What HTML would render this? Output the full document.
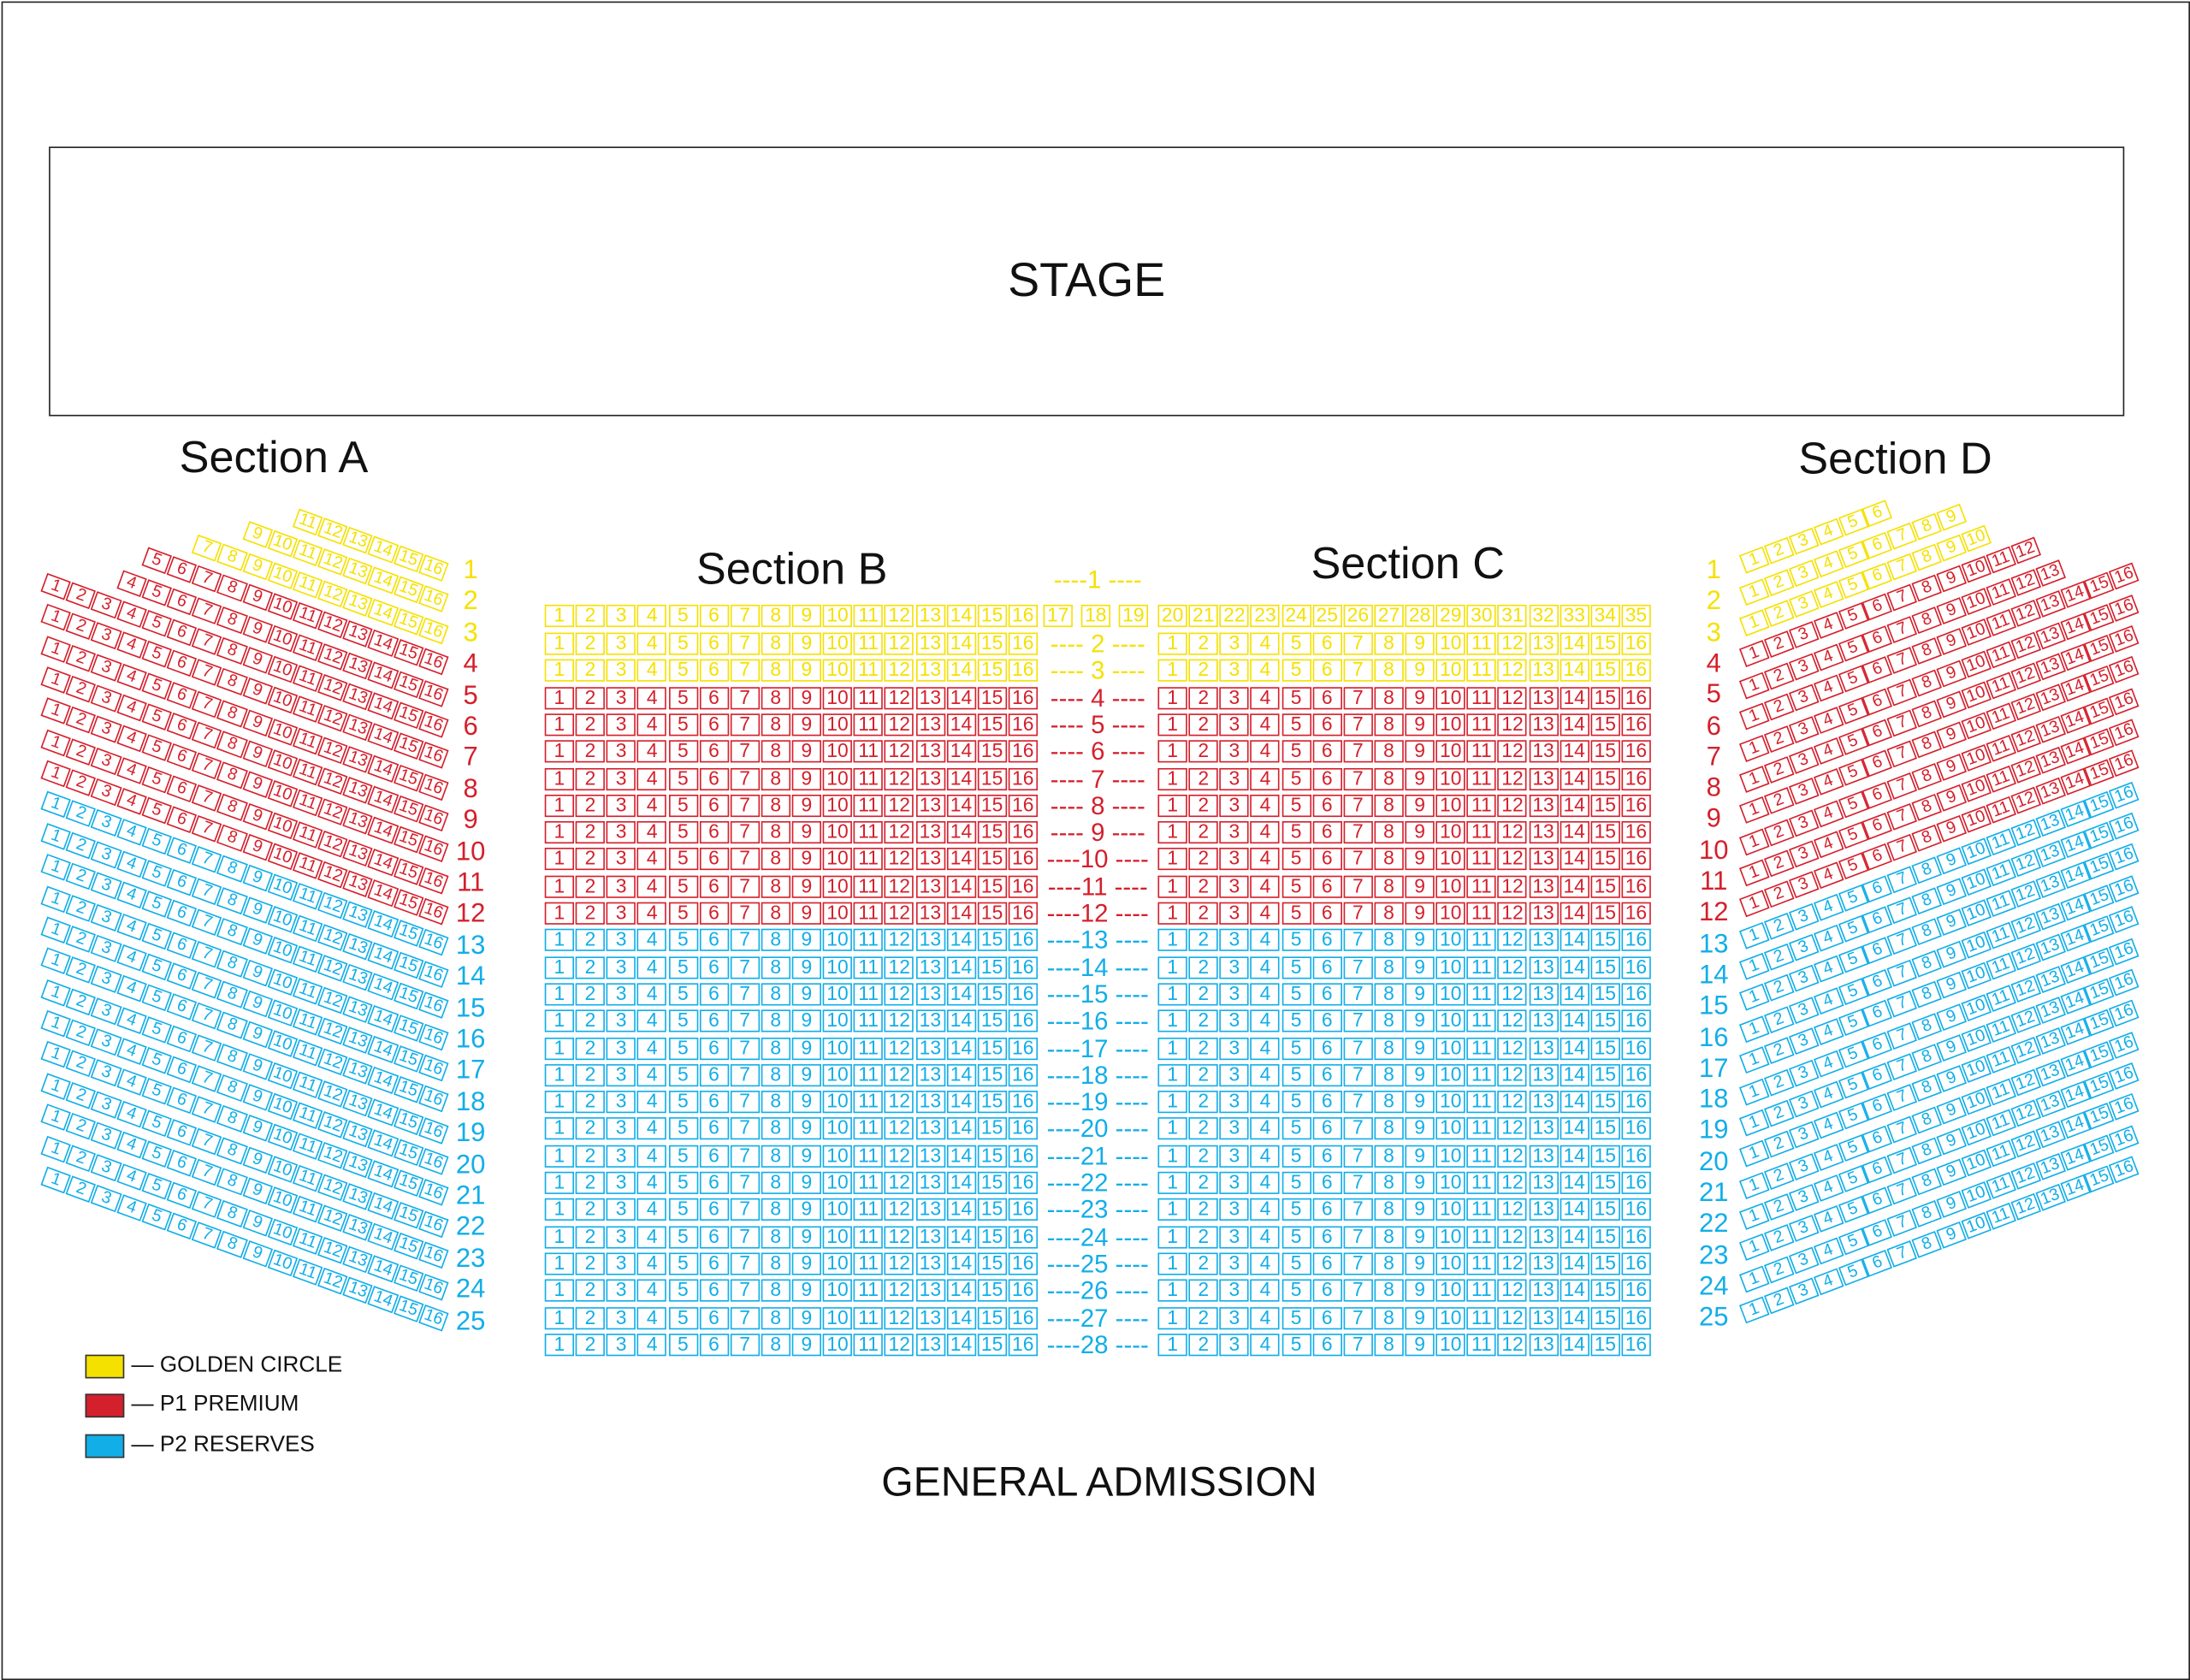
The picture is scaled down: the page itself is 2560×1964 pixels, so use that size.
<!DOCTYPE html>
<html><head><meta charset="utf-8"><style>
html,body{margin:0;padding:0;background:#fff;}
body{width:2560px;height:1964px;overflow:hidden;position:relative;font-family:"Liberation Sans",sans-serif;}
#w{position:absolute;left:0;top:0;width:1568px;height:1203px;transform:scale(1.63265);transform-origin:0 0;}
.frame{position:absolute;left:0.5px;top:0.5px;width:1565px;height:1200px;border:1.5px solid #222;}
.stage{position:absolute;left:35px;top:105px;width:1484px;height:191px;border:1.5px solid #222;text-align:center;line-height:191px;font-size:34px;color:#111;}
.sec{position:absolute;font-size:32px;color:#111;white-space:nowrap;transform:translateX(-50%);line-height:32px;}
.s{position:absolute;display:flex;white-space:nowrap;}
.s i{flex:none;box-sizing:border-box;border:1.4px solid currentColor;font-style:normal;text-align:center;}
.b i{width:21px;height:16px;font-size:14px;line-height:13.5px;margin-right:1.13px;}
.a{left:31px;transform-origin:9px 6.75px;transform:rotate(20.05deg);}
.a i,.d i{width:18.2px;height:13.5px;font-size:12px;line-height:11px;margin-right:1px;}
.d{left:1247px;transform-origin:9px 6.75px;transform:rotate(-20.8deg);}
.d i{width:18px;margin-right:0.9px;}
.s i.h{visibility:hidden;}
.Y{color:#f5e100;}.R{color:#d4202c;}.C{color:#12aee8;}
.l{position:absolute;width:40px;text-align:center;font-size:19px;line-height:18px;}
.m{position:absolute;left:716px;width:140px;text-align:center;font-size:18px;line-height:16px;white-space:pre;}
.lg{position:absolute;left:61px;width:26px;height:15px;border:1.5px solid #333;}
.lt{position:absolute;left:94px;font-size:16px;color:#111;line-height:16px;white-space:nowrap;}
.ga{position:absolute;left:787px;top:1045px;transform:translateX(-50%);font-size:29.5px;color:#111;white-space:nowrap;}
</style></head><body><div id="w">
<div class="frame"></div>
<div class="stage">STAGE</div>
<div class="sec" style="left:196px;top:311px">Section A</div>
<div class="sec" style="left:1357px;top:312px">Section D</div>
<div class="sec" style="left:567px;top:391px">Section B</div>
<div class="sec" style="left:1008px;top:387px">Section C</div>

<!-- Section B / C -->
<div class="s b Y" style="left:390px;top:433px"><i>1</i><i>2</i><i>3</i><i>4</i><i>5</i><i>6</i><i>7</i><i>8</i><i>9</i><i>10</i><i>11</i><i>12</i><i>13</i><i>14</i><i>15</i><i>16</i></div>
<div class="s b Y" style="left:747px;top:433px"><i>17</i></div>
<div class="s b Y" style="left:774px;top:433px"><i>18</i></div>
<div class="s b Y" style="left:801px;top:433px"><i>19</i></div>
<div class="s b Y" style="left:829px;top:433px"><i>20</i><i>21</i><i>22</i><i>23</i><i>24</i><i>25</i><i>26</i><i>27</i><i>28</i><i>29</i><i>30</i><i>31</i><i>32</i><i>33</i><i>34</i><i>35</i></div>
<div class="m Y" style="top:407px">----1 ----</div>

<div class="s b Y" style="left:390px;top:453px"><i>1</i><i>2</i><i>3</i><i>4</i><i>5</i><i>6</i><i>7</i><i>8</i><i>9</i><i>10</i><i>11</i><i>12</i><i>13</i><i>14</i><i>15</i><i>16</i></div>
<div class="s b Y" style="left:829px;top:453px"><i>1</i><i>2</i><i>3</i><i>4</i><i>5</i><i>6</i><i>7</i><i>8</i><i>9</i><i>10</i><i>11</i><i>12</i><i>13</i><i>14</i><i>15</i><i>16</i></div>
<div class="m Y" style="top:453px">---- 2 ----</div>
<div class="s b Y" style="left:390px;top:472.3px"><i>1</i><i>2</i><i>3</i><i>4</i><i>5</i><i>6</i><i>7</i><i>8</i><i>9</i><i>10</i><i>11</i><i>12</i><i>13</i><i>14</i><i>15</i><i>16</i></div>
<div class="s b Y" style="left:829px;top:472.3px"><i>1</i><i>2</i><i>3</i><i>4</i><i>5</i><i>6</i><i>7</i><i>8</i><i>9</i><i>10</i><i>11</i><i>12</i><i>13</i><i>14</i><i>15</i><i>16</i></div>
<div class="m Y" style="top:472.3px">---- 3 ----</div>
<div class="s b R" style="left:390px;top:491.6px"><i>1</i><i>2</i><i>3</i><i>4</i><i>5</i><i>6</i><i>7</i><i>8</i><i>9</i><i>10</i><i>11</i><i>12</i><i>13</i><i>14</i><i>15</i><i>16</i></div>
<div class="s b R" style="left:829px;top:491.6px"><i>1</i><i>2</i><i>3</i><i>4</i><i>5</i><i>6</i><i>7</i><i>8</i><i>9</i><i>10</i><i>11</i><i>12</i><i>13</i><i>14</i><i>15</i><i>16</i></div>
<div class="m R" style="top:491.6px">---- 4 ----</div>
<div class="s b R" style="left:390px;top:510.9px"><i>1</i><i>2</i><i>3</i><i>4</i><i>5</i><i>6</i><i>7</i><i>8</i><i>9</i><i>10</i><i>11</i><i>12</i><i>13</i><i>14</i><i>15</i><i>16</i></div>
<div class="s b R" style="left:829px;top:510.9px"><i>1</i><i>2</i><i>3</i><i>4</i><i>5</i><i>6</i><i>7</i><i>8</i><i>9</i><i>10</i><i>11</i><i>12</i><i>13</i><i>14</i><i>15</i><i>16</i></div>
<div class="m R" style="top:510.9px">---- 5 ----</div>
<div class="s b R" style="left:390px;top:530.2px"><i>1</i><i>2</i><i>3</i><i>4</i><i>5</i><i>6</i><i>7</i><i>8</i><i>9</i><i>10</i><i>11</i><i>12</i><i>13</i><i>14</i><i>15</i><i>16</i></div>
<div class="s b R" style="left:829px;top:530.2px"><i>1</i><i>2</i><i>3</i><i>4</i><i>5</i><i>6</i><i>7</i><i>8</i><i>9</i><i>10</i><i>11</i><i>12</i><i>13</i><i>14</i><i>15</i><i>16</i></div>
<div class="m R" style="top:530.2px">---- 6 ----</div>
<div class="s b R" style="left:390px;top:549.5px"><i>1</i><i>2</i><i>3</i><i>4</i><i>5</i><i>6</i><i>7</i><i>8</i><i>9</i><i>10</i><i>11</i><i>12</i><i>13</i><i>14</i><i>15</i><i>16</i></div>
<div class="s b R" style="left:829px;top:549.5px"><i>1</i><i>2</i><i>3</i><i>4</i><i>5</i><i>6</i><i>7</i><i>8</i><i>9</i><i>10</i><i>11</i><i>12</i><i>13</i><i>14</i><i>15</i><i>16</i></div>
<div class="m R" style="top:549.5px">---- 7 ----</div>
<div class="s b R" style="left:390px;top:568.8px"><i>1</i><i>2</i><i>3</i><i>4</i><i>5</i><i>6</i><i>7</i><i>8</i><i>9</i><i>10</i><i>11</i><i>12</i><i>13</i><i>14</i><i>15</i><i>16</i></div>
<div class="s b R" style="left:829px;top:568.8px"><i>1</i><i>2</i><i>3</i><i>4</i><i>5</i><i>6</i><i>7</i><i>8</i><i>9</i><i>10</i><i>11</i><i>12</i><i>13</i><i>14</i><i>15</i><i>16</i></div>
<div class="m R" style="top:568.8px">---- 8 ----</div>
<div class="s b R" style="left:390px;top:588.1px"><i>1</i><i>2</i><i>3</i><i>4</i><i>5</i><i>6</i><i>7</i><i>8</i><i>9</i><i>10</i><i>11</i><i>12</i><i>13</i><i>14</i><i>15</i><i>16</i></div>
<div class="s b R" style="left:829px;top:588.1px"><i>1</i><i>2</i><i>3</i><i>4</i><i>5</i><i>6</i><i>7</i><i>8</i><i>9</i><i>10</i><i>11</i><i>12</i><i>13</i><i>14</i><i>15</i><i>16</i></div>
<div class="m R" style="top:588.1px">---- 9 ----</div>
<div class="s b R" style="left:390px;top:607.4px"><i>1</i><i>2</i><i>3</i><i>4</i><i>5</i><i>6</i><i>7</i><i>8</i><i>9</i><i>10</i><i>11</i><i>12</i><i>13</i><i>14</i><i>15</i><i>16</i></div>
<div class="s b R" style="left:829px;top:607.4px"><i>1</i><i>2</i><i>3</i><i>4</i><i>5</i><i>6</i><i>7</i><i>8</i><i>9</i><i>10</i><i>11</i><i>12</i><i>13</i><i>14</i><i>15</i><i>16</i></div>
<div class="m R" style="top:607.4px">----10 ----</div>
<div class="s b R" style="left:390px;top:626.7px"><i>1</i><i>2</i><i>3</i><i>4</i><i>5</i><i>6</i><i>7</i><i>8</i><i>9</i><i>10</i><i>11</i><i>12</i><i>13</i><i>14</i><i>15</i><i>16</i></div>
<div class="s b R" style="left:829px;top:626.7px"><i>1</i><i>2</i><i>3</i><i>4</i><i>5</i><i>6</i><i>7</i><i>8</i><i>9</i><i>10</i><i>11</i><i>12</i><i>13</i><i>14</i><i>15</i><i>16</i></div>
<div class="m R" style="top:626.7px">----11 ----</div>
<div class="s b R" style="left:390px;top:646px"><i>1</i><i>2</i><i>3</i><i>4</i><i>5</i><i>6</i><i>7</i><i>8</i><i>9</i><i>10</i><i>11</i><i>12</i><i>13</i><i>14</i><i>15</i><i>16</i></div>
<div class="s b R" style="left:829px;top:646px"><i>1</i><i>2</i><i>3</i><i>4</i><i>5</i><i>6</i><i>7</i><i>8</i><i>9</i><i>10</i><i>11</i><i>12</i><i>13</i><i>14</i><i>15</i><i>16</i></div>
<div class="m R" style="top:646px">----12 ----</div>
<div class="s b C" style="left:390px;top:665.3px"><i>1</i><i>2</i><i>3</i><i>4</i><i>5</i><i>6</i><i>7</i><i>8</i><i>9</i><i>10</i><i>11</i><i>12</i><i>13</i><i>14</i><i>15</i><i>16</i></div>
<div class="s b C" style="left:829px;top:665.3px"><i>1</i><i>2</i><i>3</i><i>4</i><i>5</i><i>6</i><i>7</i><i>8</i><i>9</i><i>10</i><i>11</i><i>12</i><i>13</i><i>14</i><i>15</i><i>16</i></div>
<div class="m C" style="top:665.3px">----13 ----</div>
<div class="s b C" style="left:390px;top:684.6px"><i>1</i><i>2</i><i>3</i><i>4</i><i>5</i><i>6</i><i>7</i><i>8</i><i>9</i><i>10</i><i>11</i><i>12</i><i>13</i><i>14</i><i>15</i><i>16</i></div>
<div class="s b C" style="left:829px;top:684.6px"><i>1</i><i>2</i><i>3</i><i>4</i><i>5</i><i>6</i><i>7</i><i>8</i><i>9</i><i>10</i><i>11</i><i>12</i><i>13</i><i>14</i><i>15</i><i>16</i></div>
<div class="m C" style="top:684.6px">----14 ----</div>
<div class="s b C" style="left:390px;top:703.9px"><i>1</i><i>2</i><i>3</i><i>4</i><i>5</i><i>6</i><i>7</i><i>8</i><i>9</i><i>10</i><i>11</i><i>12</i><i>13</i><i>14</i><i>15</i><i>16</i></div>
<div class="s b C" style="left:829px;top:703.9px"><i>1</i><i>2</i><i>3</i><i>4</i><i>5</i><i>6</i><i>7</i><i>8</i><i>9</i><i>10</i><i>11</i><i>12</i><i>13</i><i>14</i><i>15</i><i>16</i></div>
<div class="m C" style="top:703.9px">----15 ----</div>
<div class="s b C" style="left:390px;top:723.2px"><i>1</i><i>2</i><i>3</i><i>4</i><i>5</i><i>6</i><i>7</i><i>8</i><i>9</i><i>10</i><i>11</i><i>12</i><i>13</i><i>14</i><i>15</i><i>16</i></div>
<div class="s b C" style="left:829px;top:723.2px"><i>1</i><i>2</i><i>3</i><i>4</i><i>5</i><i>6</i><i>7</i><i>8</i><i>9</i><i>10</i><i>11</i><i>12</i><i>13</i><i>14</i><i>15</i><i>16</i></div>
<div class="m C" style="top:723.2px">----16 ----</div>
<div class="s b C" style="left:390px;top:742.5px"><i>1</i><i>2</i><i>3</i><i>4</i><i>5</i><i>6</i><i>7</i><i>8</i><i>9</i><i>10</i><i>11</i><i>12</i><i>13</i><i>14</i><i>15</i><i>16</i></div>
<div class="s b C" style="left:829px;top:742.5px"><i>1</i><i>2</i><i>3</i><i>4</i><i>5</i><i>6</i><i>7</i><i>8</i><i>9</i><i>10</i><i>11</i><i>12</i><i>13</i><i>14</i><i>15</i><i>16</i></div>
<div class="m C" style="top:742.5px">----17 ----</div>
<div class="s b C" style="left:390px;top:761.8px"><i>1</i><i>2</i><i>3</i><i>4</i><i>5</i><i>6</i><i>7</i><i>8</i><i>9</i><i>10</i><i>11</i><i>12</i><i>13</i><i>14</i><i>15</i><i>16</i></div>
<div class="s b C" style="left:829px;top:761.8px"><i>1</i><i>2</i><i>3</i><i>4</i><i>5</i><i>6</i><i>7</i><i>8</i><i>9</i><i>10</i><i>11</i><i>12</i><i>13</i><i>14</i><i>15</i><i>16</i></div>
<div class="m C" style="top:761.8px">----18 ----</div>
<div class="s b C" style="left:390px;top:781.1px"><i>1</i><i>2</i><i>3</i><i>4</i><i>5</i><i>6</i><i>7</i><i>8</i><i>9</i><i>10</i><i>11</i><i>12</i><i>13</i><i>14</i><i>15</i><i>16</i></div>
<div class="s b C" style="left:829px;top:781.1px"><i>1</i><i>2</i><i>3</i><i>4</i><i>5</i><i>6</i><i>7</i><i>8</i><i>9</i><i>10</i><i>11</i><i>12</i><i>13</i><i>14</i><i>15</i><i>16</i></div>
<div class="m C" style="top:781.1px">----19 ----</div>
<div class="s b C" style="left:390px;top:800.4px"><i>1</i><i>2</i><i>3</i><i>4</i><i>5</i><i>6</i><i>7</i><i>8</i><i>9</i><i>10</i><i>11</i><i>12</i><i>13</i><i>14</i><i>15</i><i>16</i></div>
<div class="s b C" style="left:829px;top:800.4px"><i>1</i><i>2</i><i>3</i><i>4</i><i>5</i><i>6</i><i>7</i><i>8</i><i>9</i><i>10</i><i>11</i><i>12</i><i>13</i><i>14</i><i>15</i><i>16</i></div>
<div class="m C" style="top:800.4px">----20 ----</div>
<div class="s b C" style="left:390px;top:819.7px"><i>1</i><i>2</i><i>3</i><i>4</i><i>5</i><i>6</i><i>7</i><i>8</i><i>9</i><i>10</i><i>11</i><i>12</i><i>13</i><i>14</i><i>15</i><i>16</i></div>
<div class="s b C" style="left:829px;top:819.7px"><i>1</i><i>2</i><i>3</i><i>4</i><i>5</i><i>6</i><i>7</i><i>8</i><i>9</i><i>10</i><i>11</i><i>12</i><i>13</i><i>14</i><i>15</i><i>16</i></div>
<div class="m C" style="top:819.7px">----21 ----</div>
<div class="s b C" style="left:390px;top:839px"><i>1</i><i>2</i><i>3</i><i>4</i><i>5</i><i>6</i><i>7</i><i>8</i><i>9</i><i>10</i><i>11</i><i>12</i><i>13</i><i>14</i><i>15</i><i>16</i></div>
<div class="s b C" style="left:829px;top:839px"><i>1</i><i>2</i><i>3</i><i>4</i><i>5</i><i>6</i><i>7</i><i>8</i><i>9</i><i>10</i><i>11</i><i>12</i><i>13</i><i>14</i><i>15</i><i>16</i></div>
<div class="m C" style="top:839px">----22 ----</div>
<div class="s b C" style="left:390px;top:858.3px"><i>1</i><i>2</i><i>3</i><i>4</i><i>5</i><i>6</i><i>7</i><i>8</i><i>9</i><i>10</i><i>11</i><i>12</i><i>13</i><i>14</i><i>15</i><i>16</i></div>
<div class="s b C" style="left:829px;top:858.3px"><i>1</i><i>2</i><i>3</i><i>4</i><i>5</i><i>6</i><i>7</i><i>8</i><i>9</i><i>10</i><i>11</i><i>12</i><i>13</i><i>14</i><i>15</i><i>16</i></div>
<div class="m C" style="top:858.3px">----23 ----</div>
<div class="s b C" style="left:390px;top:877.6px"><i>1</i><i>2</i><i>3</i><i>4</i><i>5</i><i>6</i><i>7</i><i>8</i><i>9</i><i>10</i><i>11</i><i>12</i><i>13</i><i>14</i><i>15</i><i>16</i></div>
<div class="s b C" style="left:829px;top:877.6px"><i>1</i><i>2</i><i>3</i><i>4</i><i>5</i><i>6</i><i>7</i><i>8</i><i>9</i><i>10</i><i>11</i><i>12</i><i>13</i><i>14</i><i>15</i><i>16</i></div>
<div class="m C" style="top:877.6px">----24 ----</div>
<div class="s b C" style="left:390px;top:896.9px"><i>1</i><i>2</i><i>3</i><i>4</i><i>5</i><i>6</i><i>7</i><i>8</i><i>9</i><i>10</i><i>11</i><i>12</i><i>13</i><i>14</i><i>15</i><i>16</i></div>
<div class="s b C" style="left:829px;top:896.9px"><i>1</i><i>2</i><i>3</i><i>4</i><i>5</i><i>6</i><i>7</i><i>8</i><i>9</i><i>10</i><i>11</i><i>12</i><i>13</i><i>14</i><i>15</i><i>16</i></div>
<div class="m C" style="top:896.9px">----25 ----</div>
<div class="s b C" style="left:390px;top:916.2px"><i>1</i><i>2</i><i>3</i><i>4</i><i>5</i><i>6</i><i>7</i><i>8</i><i>9</i><i>10</i><i>11</i><i>12</i><i>13</i><i>14</i><i>15</i><i>16</i></div>
<div class="s b C" style="left:829px;top:916.2px"><i>1</i><i>2</i><i>3</i><i>4</i><i>5</i><i>6</i><i>7</i><i>8</i><i>9</i><i>10</i><i>11</i><i>12</i><i>13</i><i>14</i><i>15</i><i>16</i></div>
<div class="m C" style="top:916.2px">----26 ----</div>
<div class="s b C" style="left:390px;top:935.5px"><i>1</i><i>2</i><i>3</i><i>4</i><i>5</i><i>6</i><i>7</i><i>8</i><i>9</i><i>10</i><i>11</i><i>12</i><i>13</i><i>14</i><i>15</i><i>16</i></div>
<div class="s b C" style="left:829px;top:935.5px"><i>1</i><i>2</i><i>3</i><i>4</i><i>5</i><i>6</i><i>7</i><i>8</i><i>9</i><i>10</i><i>11</i><i>12</i><i>13</i><i>14</i><i>15</i><i>16</i></div>
<div class="m C" style="top:935.5px">----27 ----</div>
<div class="s b C" style="left:390px;top:954.8px"><i>1</i><i>2</i><i>3</i><i>4</i><i>5</i><i>6</i><i>7</i><i>8</i><i>9</i><i>10</i><i>11</i><i>12</i><i>13</i><i>14</i><i>15</i><i>16</i></div>
<div class="s b C" style="left:829px;top:954.8px"><i>1</i><i>2</i><i>3</i><i>4</i><i>5</i><i>6</i><i>7</i><i>8</i><i>9</i><i>10</i><i>11</i><i>12</i><i>13</i><i>14</i><i>15</i><i>16</i></div>
<div class="m C" style="top:954.8px">----28 ----</div>

<!-- Section A -->
<div class="s a Y" style="top:301px"><i class="h"></i><i class="h"></i><i class="h"></i><i class="h"></i><i class="h"></i><i class="h"></i><i class="h"></i><i class="h"></i><i class="h"></i><i class="h"></i><i>11</i><i>12</i><i>13</i><i>14</i><i>15</i><i>16</i></div>
<div class="s a Y" style="top:323.4px"><i class="h"></i><i class="h"></i><i class="h"></i><i class="h"></i><i class="h"></i><i class="h"></i><i class="h"></i><i class="h"></i><i>9</i><i>10</i><i>11</i><i>12</i><i>13</i><i>14</i><i>15</i><i>16</i></div>
<div class="s a Y" style="top:345.7px"><i class="h"></i><i class="h"></i><i class="h"></i><i class="h"></i><i class="h"></i><i class="h"></i><i>7</i><i>8</i><i>9</i><i>10</i><i>11</i><i>12</i><i>13</i><i>14</i><i>15</i><i>16</i></div>
<div class="s a R" style="top:368.1px"><i class="h"></i><i class="h"></i><i class="h"></i><i class="h"></i><i>5</i><i>6</i><i>7</i><i>8</i><i>9</i><i>10</i><i>11</i><i>12</i><i>13</i><i>14</i><i>15</i><i>16</i></div>
<div class="s a R" style="top:390.5px"><i class="h"></i><i class="h"></i><i class="h"></i><i>4</i><i>5</i><i>6</i><i>7</i><i>8</i><i>9</i><i>10</i><i>11</i><i>12</i><i>13</i><i>14</i><i>15</i><i>16</i></div>
<div class="s a R" style="top:412.9px"><i>1</i><i>2</i><i>3</i><i>4</i><i>5</i><i>6</i><i>7</i><i>8</i><i>9</i><i>10</i><i>11</i><i>12</i><i>13</i><i>14</i><i>15</i><i>16</i></div>
<div class="s a R" style="top:435.2px"><i>1</i><i>2</i><i>3</i><i>4</i><i>5</i><i>6</i><i>7</i><i>8</i><i>9</i><i>10</i><i>11</i><i>12</i><i>13</i><i>14</i><i>15</i><i>16</i></div>
<div class="s a R" style="top:457.6px"><i>1</i><i>2</i><i>3</i><i>4</i><i>5</i><i>6</i><i>7</i><i>8</i><i>9</i><i>10</i><i>11</i><i>12</i><i>13</i><i>14</i><i>15</i><i>16</i></div>
<div class="s a R" style="top:480px"><i>1</i><i>2</i><i>3</i><i>4</i><i>5</i><i>6</i><i>7</i><i>8</i><i>9</i><i>10</i><i>11</i><i>12</i><i>13</i><i>14</i><i>15</i><i>16</i></div>
<div class="s a R" style="top:502.3px"><i>1</i><i>2</i><i>3</i><i>4</i><i>5</i><i>6</i><i>7</i><i>8</i><i>9</i><i>10</i><i>11</i><i>12</i><i>13</i><i>14</i><i>15</i><i>16</i></div>
<div class="s a R" style="top:524.7px"><i>1</i><i>2</i><i>3</i><i>4</i><i>5</i><i>6</i><i>7</i><i>8</i><i>9</i><i>10</i><i>11</i><i>12</i><i>13</i><i>14</i><i>15</i><i>16</i></div>
<div class="s a R" style="top:547.1px"><i>1</i><i>2</i><i>3</i><i>4</i><i>5</i><i>6</i><i>7</i><i>8</i><i>9</i><i>10</i><i>11</i><i>12</i><i>13</i><i>14</i><i>15</i><i>16</i></div>
<div class="s a C" style="top:569.4px"><i>1</i><i>2</i><i>3</i><i>4</i><i>5</i><i>6</i><i>7</i><i>8</i><i>9</i><i>10</i><i>11</i><i>12</i><i>13</i><i>14</i><i>15</i><i>16</i></div>
<div class="s a C" style="top:591.8px"><i>1</i><i>2</i><i>3</i><i>4</i><i>5</i><i>6</i><i>7</i><i>8</i><i>9</i><i>10</i><i>11</i><i>12</i><i>13</i><i>14</i><i>15</i><i>16</i></div>
<div class="s a C" style="top:614.2px"><i>1</i><i>2</i><i>3</i><i>4</i><i>5</i><i>6</i><i>7</i><i>8</i><i>9</i><i>10</i><i>11</i><i>12</i><i>13</i><i>14</i><i>15</i><i>16</i></div>
<div class="s a C" style="top:636.6px"><i>1</i><i>2</i><i>3</i><i>4</i><i>5</i><i>6</i><i>7</i><i>8</i><i>9</i><i>10</i><i>11</i><i>12</i><i>13</i><i>14</i><i>15</i><i>16</i></div>
<div class="s a C" style="top:658.9px"><i>1</i><i>2</i><i>3</i><i>4</i><i>5</i><i>6</i><i>7</i><i>8</i><i>9</i><i>10</i><i>11</i><i>12</i><i>13</i><i>14</i><i>15</i><i>16</i></div>
<div class="s a C" style="top:681.3px"><i>1</i><i>2</i><i>3</i><i>4</i><i>5</i><i>6</i><i>7</i><i>8</i><i>9</i><i>10</i><i>11</i><i>12</i><i>13</i><i>14</i><i>15</i><i>16</i></div>
<div class="s a C" style="top:703.7px"><i>1</i><i>2</i><i>3</i><i>4</i><i>5</i><i>6</i><i>7</i><i>8</i><i>9</i><i>10</i><i>11</i><i>12</i><i>13</i><i>14</i><i>15</i><i>16</i></div>
<div class="s a C" style="top:726px"><i>1</i><i>2</i><i>3</i><i>4</i><i>5</i><i>6</i><i>7</i><i>8</i><i>9</i><i>10</i><i>11</i><i>12</i><i>13</i><i>14</i><i>15</i><i>16</i></div>
<div class="s a C" style="top:748.4px"><i>1</i><i>2</i><i>3</i><i>4</i><i>5</i><i>6</i><i>7</i><i>8</i><i>9</i><i>10</i><i>11</i><i>12</i><i>13</i><i>14</i><i>15</i><i>16</i></div>
<div class="s a C" style="top:770.8px"><i>1</i><i>2</i><i>3</i><i>4</i><i>5</i><i>6</i><i>7</i><i>8</i><i>9</i><i>10</i><i>11</i><i>12</i><i>13</i><i>14</i><i>15</i><i>16</i></div>
<div class="s a C" style="top:793.1px"><i>1</i><i>2</i><i>3</i><i>4</i><i>5</i><i>6</i><i>7</i><i>8</i><i>9</i><i>10</i><i>11</i><i>12</i><i>13</i><i>14</i><i>15</i><i>16</i></div>
<div class="s a C" style="top:815.5px"><i>1</i><i>2</i><i>3</i><i>4</i><i>5</i><i>6</i><i>7</i><i>8</i><i>9</i><i>10</i><i>11</i><i>12</i><i>13</i><i>14</i><i>15</i><i>16</i></div>
<div class="s a C" style="top:837.9px"><i>1</i><i>2</i><i>3</i><i>4</i><i>5</i><i>6</i><i>7</i><i>8</i><i>9</i><i>10</i><i>11</i><i>12</i><i>13</i><i>14</i><i>15</i><i>16</i></div>

<div class="l Y" style="left:317px;top:400px">1</div>
<div class="l Y" style="left:317px;top:422.4px">2</div>
<div class="l Y" style="left:317px;top:444.8px">3</div>
<div class="l R" style="left:317px;top:467.2px">4</div>
<div class="l R" style="left:317px;top:489.6px">5</div>
<div class="l R" style="left:317px;top:512px">6</div>
<div class="l R" style="left:317px;top:534.4px">7</div>
<div class="l R" style="left:317px;top:556.8px">8</div>
<div class="l R" style="left:317px;top:579.2px">9</div>
<div class="l R" style="left:317px;top:601.6px">10</div>
<div class="l R" style="left:317px;top:624px">11</div>
<div class="l R" style="left:317px;top:646.4px">12</div>
<div class="l C" style="left:317px;top:668.8px">13</div>
<div class="l C" style="left:317px;top:691.2px">14</div>
<div class="l C" style="left:317px;top:713.6px">15</div>
<div class="l C" style="left:317px;top:736px">16</div>
<div class="l C" style="left:317px;top:758.4px">17</div>
<div class="l C" style="left:317px;top:780.8px">18</div>
<div class="l C" style="left:317px;top:803.2px">19</div>
<div class="l C" style="left:317px;top:825.6px">20</div>
<div class="l C" style="left:317px;top:848px">21</div>
<div class="l C" style="left:317px;top:870.4px">22</div>
<div class="l C" style="left:317px;top:892.8px">23</div>
<div class="l C" style="left:317px;top:915.2px">24</div>
<div class="l C" style="left:317px;top:937.6px">25</div>

<!-- Section D -->
<div class="s d Y" style="top:394.3px"><i>1</i><i>2</i><i>3</i><i>4</i><i>5</i><i>6</i></div>
<div class="s d Y" style="top:416.6px"><i>1</i><i>2</i><i>3</i><i>4</i><i>5</i><i>6</i><i>7</i><i>8</i><i>9</i></div>
<div class="s d Y" style="top:439px"><i>1</i><i>2</i><i>3</i><i>4</i><i>5</i><i>6</i><i>7</i><i>8</i><i>9</i><i>10</i></div>
<div class="s d R" style="top:461.4px"><i>1</i><i>2</i><i>3</i><i>4</i><i>5</i><i>6</i><i>7</i><i>8</i><i>9</i><i>10</i><i>11</i><i>12</i></div>
<div class="s d R" style="top:483.7px"><i>1</i><i>2</i><i>3</i><i>4</i><i>5</i><i>6</i><i>7</i><i>8</i><i>9</i><i>10</i><i>11</i><i>12</i><i>13</i></div>
<div class="s d R" style="top:506.1px"><i>1</i><i>2</i><i>3</i><i>4</i><i>5</i><i>6</i><i>7</i><i>8</i><i>9</i><i>10</i><i>11</i><i>12</i><i>13</i><i>14</i><i>15</i><i>16</i></div>
<div class="s d R" style="top:528.5px"><i>1</i><i>2</i><i>3</i><i>4</i><i>5</i><i>6</i><i>7</i><i>8</i><i>9</i><i>10</i><i>11</i><i>12</i><i>13</i><i>14</i><i>15</i><i>16</i></div>
<div class="s d R" style="top:550.9px"><i>1</i><i>2</i><i>3</i><i>4</i><i>5</i><i>6</i><i>7</i><i>8</i><i>9</i><i>10</i><i>11</i><i>12</i><i>13</i><i>14</i><i>15</i><i>16</i></div>
<div class="s d R" style="top:573.2px"><i>1</i><i>2</i><i>3</i><i>4</i><i>5</i><i>6</i><i>7</i><i>8</i><i>9</i><i>10</i><i>11</i><i>12</i><i>13</i><i>14</i><i>15</i><i>16</i></div>
<div class="s d R" style="top:595.6px"><i>1</i><i>2</i><i>3</i><i>4</i><i>5</i><i>6</i><i>7</i><i>8</i><i>9</i><i>10</i><i>11</i><i>12</i><i>13</i><i>14</i><i>15</i><i>16</i></div>
<div class="s d R" style="top:618px"><i>1</i><i>2</i><i>3</i><i>4</i><i>5</i><i>6</i><i>7</i><i>8</i><i>9</i><i>10</i><i>11</i><i>12</i><i>13</i><i>14</i><i>15</i><i>16</i></div>
<div class="s d R" style="top:640.3px"><i>1</i><i>2</i><i>3</i><i>4</i><i>5</i><i>6</i><i>7</i><i>8</i><i>9</i><i>10</i><i>11</i><i>12</i><i>13</i><i>14</i><i>15</i><i>16</i></div>
<div class="s d C" style="top:662.7px"><i>1</i><i>2</i><i>3</i><i>4</i><i>5</i><i>6</i><i>7</i><i>8</i><i>9</i><i>10</i><i>11</i><i>12</i><i>13</i><i>14</i><i>15</i><i>16</i></div>
<div class="s d C" style="top:685.1px"><i>1</i><i>2</i><i>3</i><i>4</i><i>5</i><i>6</i><i>7</i><i>8</i><i>9</i><i>10</i><i>11</i><i>12</i><i>13</i><i>14</i><i>15</i><i>16</i></div>
<div class="s d C" style="top:707.4px"><i>1</i><i>2</i><i>3</i><i>4</i><i>5</i><i>6</i><i>7</i><i>8</i><i>9</i><i>10</i><i>11</i><i>12</i><i>13</i><i>14</i><i>15</i><i>16</i></div>
<div class="s d C" style="top:729.8px"><i>1</i><i>2</i><i>3</i><i>4</i><i>5</i><i>6</i><i>7</i><i>8</i><i>9</i><i>10</i><i>11</i><i>12</i><i>13</i><i>14</i><i>15</i><i>16</i></div>
<div class="s d C" style="top:752.2px"><i>1</i><i>2</i><i>3</i><i>4</i><i>5</i><i>6</i><i>7</i><i>8</i><i>9</i><i>10</i><i>11</i><i>12</i><i>13</i><i>14</i><i>15</i><i>16</i></div>
<div class="s d C" style="top:774.5px"><i>1</i><i>2</i><i>3</i><i>4</i><i>5</i><i>6</i><i>7</i><i>8</i><i>9</i><i>10</i><i>11</i><i>12</i><i>13</i><i>14</i><i>15</i><i>16</i></div>
<div class="s d C" style="top:796.9px"><i>1</i><i>2</i><i>3</i><i>4</i><i>5</i><i>6</i><i>7</i><i>8</i><i>9</i><i>10</i><i>11</i><i>12</i><i>13</i><i>14</i><i>15</i><i>16</i></div>
<div class="s d C" style="top:819.3px"><i>1</i><i>2</i><i>3</i><i>4</i><i>5</i><i>6</i><i>7</i><i>8</i><i>9</i><i>10</i><i>11</i><i>12</i><i>13</i><i>14</i><i>15</i><i>16</i></div>
<div class="s d C" style="top:841.6px"><i>1</i><i>2</i><i>3</i><i>4</i><i>5</i><i>6</i><i>7</i><i>8</i><i>9</i><i>10</i><i>11</i><i>12</i><i>13</i><i>14</i><i>15</i><i>16</i></div>
<div class="s d C" style="top:864px"><i>1</i><i>2</i><i>3</i><i>4</i><i>5</i><i>6</i><i>7</i><i>8</i><i>9</i><i>10</i><i>11</i><i>12</i><i>13</i><i>14</i><i>15</i><i>16</i></div>
<div class="s d C" style="top:886.4px"><i>1</i><i>2</i><i>3</i><i>4</i><i>5</i><i>6</i><i>7</i><i>8</i><i>9</i><i>10</i><i>11</i><i>12</i><i>13</i><i>14</i><i>15</i><i>16</i></div>
<div class="s d C" style="top:908.7px"><i>1</i><i>2</i><i>3</i><i>4</i><i>5</i><i>6</i><i>7</i><i>8</i><i>9</i><i>10</i><i>11</i><i>12</i><i>13</i><i>14</i><i>15</i><i>16</i></div>
<div class="s d C" style="top:931.1px"><i>1</i><i>2</i><i>3</i><i>4</i><i>5</i><i>6</i><i>7</i><i>8</i><i>9</i><i>10</i><i>11</i><i>12</i><i>13</i><i>14</i><i>15</i><i>16</i></div>

<div class="l Y" style="left:1207px;top:400px">1</div>
<div class="l Y" style="left:1207px;top:422.3px">2</div>
<div class="l Y" style="left:1207px;top:444.6px">3</div>
<div class="l R" style="left:1207px;top:466.9px">4</div>
<div class="l R" style="left:1207px;top:489.2px">5</div>
<div class="l R" style="left:1207px;top:511.5px">6</div>
<div class="l R" style="left:1207px;top:533.8px">7</div>
<div class="l R" style="left:1207px;top:556.1px">8</div>
<div class="l R" style="left:1207px;top:578.4px">9</div>
<div class="l R" style="left:1207px;top:600.7px">10</div>
<div class="l R" style="left:1207px;top:623px">11</div>
<div class="l R" style="left:1207px;top:645.3px">12</div>
<div class="l C" style="left:1207px;top:667.6px">13</div>
<div class="l C" style="left:1207px;top:689.9px">14</div>
<div class="l C" style="left:1207px;top:712.2px">15</div>
<div class="l C" style="left:1207px;top:734.5px">16</div>
<div class="l C" style="left:1207px;top:756.8px">17</div>
<div class="l C" style="left:1207px;top:779.1px">18</div>
<div class="l C" style="left:1207px;top:801.4px">19</div>
<div class="l C" style="left:1207px;top:823.7px">20</div>
<div class="l C" style="left:1207px;top:846px">21</div>
<div class="l C" style="left:1207px;top:868.3px">22</div>
<div class="l C" style="left:1207px;top:890.6px">23</div>
<div class="l C" style="left:1207px;top:912.9px">24</div>
<div class="l C" style="left:1207px;top:935.2px">25</div>

<!-- Legend -->
<div class="lg" style="top:970px;background:#f5e100"></div>
<div class="lt" style="top:970px">— GOLDEN CIRCLE</div>
<div class="lg" style="top:998px;background:#d4202c"></div>
<div class="lt" style="top:998px">— P1 PREMIUM</div>
<div class="lg" style="top:1027px;background:#12aee8"></div>
<div class="lt" style="top:1027px">— P2 RESERVES</div>

<div class="ga">GENERAL ADMISSION</div>
</div></body></html>
